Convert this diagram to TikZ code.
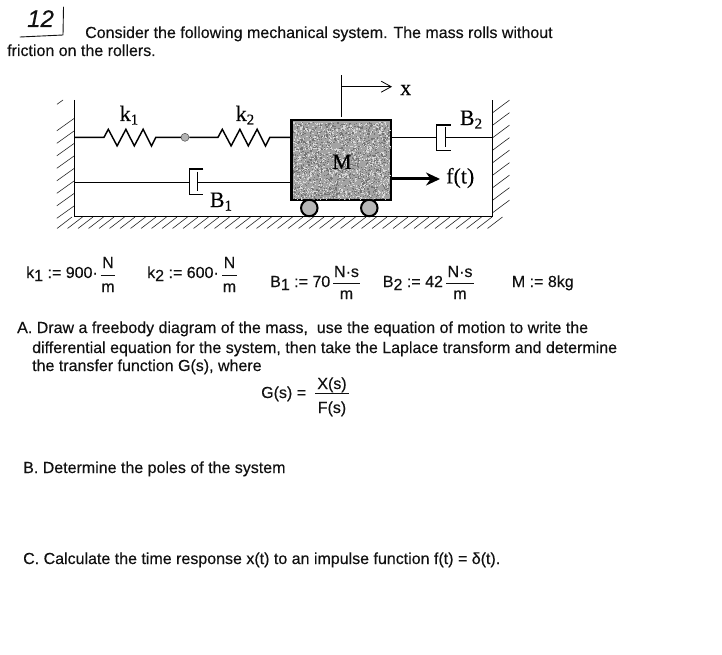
\documentclass[tikz,border=0pt]{standalone}
\usepackage{fontspec}
\setmainfont[FakeBold=0.25]{Liberation Sans}
\newfontfamily\diagfont[FakeBold=0.15]{Liberation Serif}
\usetikzlibrary{arrows.meta}
\definecolor{inkc}{HTML}{111111}
\tikzset{
  txt/.style={anchor=base west,inner sep=0pt,font=\fontsize{16}{18}\selectfont,text=inkc},
  frt/.style={anchor=base,inner sep=0pt,font=\fontsize{16}{18}\selectfont,text=inkc},
  lbl/.style={anchor=base,inner sep=0pt,font=\diagfont\fontsize{22}{24}\selectfont,text=black},
  wire/.style={draw=black,line width=1.45pt},
  wall/.style={draw=black,line width=1.5pt},
  hatch/.style={draw=black!85,line width=0.6pt},
  barline/.style={draw=inkc,line width=0.7pt},
  roller/.style={circle,draw=black,line width=2pt,fill=black!28,minimum size=16.5pt,inner sep=0pt},
  joint/.style={circle,draw=black!70,line width=0.5pt,fill=black!30,minimum size=8pt,inner sep=0pt},
  massbox/.style={rectangle,draw=black,line width=1.5pt,minimum width=98.7pt,minimum height=79.3pt,inner sep=0pt},
  pen/.style={draw=inkc,line width=0.9pt,line cap=round,line join=round},
}
\newcommand{\zigzag}{-- ++(4.3,-8) -- ++(8.8,16.6) -- ++(8.8,-16.6) -- ++(8.4,16.6) -- ++(8.8,-16.6) -- ++(8.4,16.6) -- ++(4.3,-8.5)}
\newcommand{\labsub}[1]{\raisebox{-3.5pt}{\fontsize{15}{16}\selectfont #1}}
\newcommand{\txtsub}[1]{\raisebox{-3pt}{#1}}
\begin{document}
\begin{tikzpicture}[x=1pt,y=-1pt]
\useasboundingbox (0,0) rectangle (722,655);
\fill[white] (0,0) rectangle (722,655);

% handwritten number
\node[anchor=base west,inner sep=0pt,font=\itshape\fontsize{24}{26}\selectfont,text=inkc] (num) at (27,27) {12};
\coordinate (penA) at (63.5,7);
\coordinate (penB) at (63,35);
\coordinate (penC) at (20,37);
\draw[pen] (penA) -- (penB) -- (penC);

% intro
\node[txt] (intro1) at (85,38) {Consider the following mechanical system. The mass rolls without};
\node[txt] (intro2) at (7,56) {friction on the rollers.};

% walls
\coordinate (wallTL) at (74.3,100);
\coordinate (wallBL) at (74.3,216.7);
\coordinate (wallBR) at (492.7,216.7);
\coordinate (wallTR) at (492.7,100);
\draw[hatch] (57,104.3) -- (63,100);
\foreach \y in {118.3,130.8,...,207} \draw[hatch] (74.3,\y) -- ++(-17.5,12.5);
\foreach \y in {112.7,125.2,...,214} \draw[hatch] (492.7,\y) -- ++(16.7,-12.5);
\foreach \x in {72,82.5,...,503} \draw[hatch] (\x,217) -- ++(-15,11.5);
\draw[wall] (wallTL) -- (wallBL) -- (wallBR) -- (wallTR);

% mass
\node[massbox,fill=black!36] (mass) at (341.3,160.3) {};
\pgfmathsetseed{1234}
\foreach \i in {1,...,1100} {
  \pgfmathsetmacro{\px}{293+rnd*96.5}
  \pgfmathsetmacro{\py}{122+rnd*77}
  \fill[black!55] (\px,\py) rectangle ++(1.2,1.2);
  \pgfmathsetmacro{\qx}{293+rnd*96.5}
  \pgfmathsetmacro{\qy}{122+rnd*77}
  \fill[black!15] (\qx,\qy) rectangle ++(1.2,1.2);
}
\draw[line width=1.5pt] (mass.north west) rectangle (mass.south east);
\node[lbl] (mlabel) at (342,169) {M};

% rollers
\node[roller] (r1) at (309.3,208) {};
\node[roller] (r2) at (369.3,208) {};

% springs
\coordinate (wallS) at (74.3,137.3);
\coordinate (massS) at (292,137.3);
\coordinate (s1a) at (104,137.3);
\coordinate (s2a) at (218,137.3);
\node[joint] (jn) at (185,137.3) {};
\draw[wire,line join=miter] (wallS) -- (s1a) \zigzag -- (jn);
\draw[wire,line join=miter] (jn) -- (s2a) \zigzag -- (massS);
\node[lbl] (k1) at (129,121) {k\labsub{1}};
\node[lbl] (k2) at (245,121) {k\labsub{2}};

% damper B1
\coordinate (wallD) at (74.3,182.3);
\coordinate (massD) at (292,182.3);
\coordinate (c1m) at (189.3,182.3);
\coordinate (p1) at (197.7,182.3);
\draw[wire] (wallD) -- (c1m);
\draw[wire] (203.3,169.2) -- (189.3,169.2) -- (189.3,194.3) -- (203.3,194.3);
\draw[wire] (197.7,171.7) -- (197.7,190.7);
\draw[wire] (p1) -- (massD);
\node[lbl] (b1) at (221,207) {B\labsub{1}};

% damper B2
\coordinate (massE) at (390.7,137.3);
\coordinate (c2m) at (436.7,137.3);
\coordinate (p2) at (445.7,137.3);
\coordinate (wallE) at (492.7,137.3);
\draw[wire] (massE) -- (c2m);
\draw[wire] (450.7,125) -- (436.7,125) -- (436.7,150.7) -- (450.7,150.7);
\draw[wire] (445.7,127.5) -- (445.7,147);
\draw[wire] (p2) -- (wallE);
\node[lbl] (b2) at (471,125) {B\labsub{2}};

% force
\coordinate (fs) at (390.7,179);
\node[lbl,anchor=west] (ft) at (446,178) {f(t)};
\draw[draw=black,line width=3pt,-{Stealth[length=14pt,width=13pt]},shorten >=6pt] (fs) -- (ft.west |- fs);

% x marker
\coordinate (xb) at (341,116.7);
\coordinate (xt) at (341,75);
\coordinate (xm) at (341,86.7);
\node[lbl,anchor=west] (xl) at (400,90) {x};
\draw[black,line width=0.8pt] (xb) -- (xt);
\draw[black,line width=0.8pt,-{Straight Barb[length=10pt,width=11pt]},shorten >=8pt] (xm) -- (xl.west |- xm);

% constants
\node[txt] (ck1) at (26,278) {k\txtsub{1} := 900·};
\node[frt] (ck1n) at (108,268) {N};
\node[frt] (ck1d) at (108,292) {m};
\draw[barline] (100.7,275) -- (115,275);
\node[txt] (ck2) at (147,278) {k\txtsub{2} := 600·};
\node[frt] (ck2n) at (229.5,268) {N};
\node[frt] (ck2d) at (229.5,292) {m};
\draw[barline] (222,275) -- (237,275);
\node[txt] (cb1) at (270,287) {B\txtsub{1} := 70};
\node[frt] (cb1n) at (346.5,277) {N·s};
\node[frt] (cb1d) at (346.5,299) {m};
\draw[barline] (333,283) -- (360,283);
\node[txt] (cb2) at (382.7,287) {B\txtsub{2} := 42};
\node[frt] (cb2n) at (460,277) {N·s};
\node[frt] (cb2d) at (460,299) {m};
\draw[barline] (446,283) -- (474,283);
\node[txt] (cm) at (511.7,287) {M := 8kg};

% questions
\node[txt] (qa1) at (17,333) {A. Draw a freebody diagram of the mass,\ \ use the equation of motion to write the};
\node[txt] (qa2) at (32,353) {differential equation for the system, then take the Laplace transform and determine};
\node[txt] (qa3) at (32,371) {the transfer function G(s), where};
\node[txt] (gs) at (261,398) {G(s) =};
\node[frt] (gn) at (332,389) {X(s)};
\node[frt] (gd) at (332,413) {F(s)};
\draw[barline] (315,393.5) -- (349,393.5);
\node[txt] (qb) at (23,473) {B. Determine the poles of the system};
\node[txt] (qc) at (23,564) {C. Calculate the time response x(t) to an impulse function f(t) = δ(t).};
\end{tikzpicture}
\end{document}
